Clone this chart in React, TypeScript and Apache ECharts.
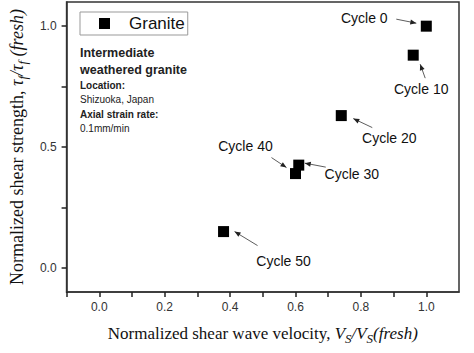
import React, { useEffect, useRef } from "react";
import * as echarts from "echarts";

// ---- data ----
const cycles = ["Cycle 0", "Cycle 10", "Cycle 20", "Cycle 30", "Cycle 40", "Cycle 50"];
const vsRatio = [1.0, 0.96, 0.74, 0.61, 0.6, 0.38];
const tauRatio = [1.0, 0.88, 0.63, 0.425, 0.39, 0.15];
const xTickLabels = [0.0, 0.2, 0.4, 0.6, 0.8, 1.0];
const xTicks = [-0.1, 0.0, 0.1, 0.2, 0.3, 0.4, 0.5, 0.6, 0.7, 0.8, 0.9, 1.0];
const yTickLabels = [0.0, 0.5, 1.0];
const yTicks = [0.0, 0.25, 0.5, 0.75, 1.0];
const seriesName = "Granite";
const noteLines = [
  { text: "Intermediate", bold: true, size: 12.5 },
  { text: "weathered granite", bold: true, size: 12.5 },
  { text: "Location:", bold: true, size: 10 },
  { text: "Shizuoka, Japan", bold: false, size: 10 },
  { text: "Axial strain rate:", bold: true, size: 10 },
  { text: "0.1mm/min", bold: false, size: 10 },
];

// annotation layout (pixel offsets relative to each point): text centre, arrow start, arrow end
const labelLayout = [
  { t: [-62, -8], a: [-30, -7], b: [-10, -3] },
  { t: [8, 34], a: [12, 23], b: [7, 9] },
  { t: [48, 22], a: [31, 12], b: [12, 3] },
  { t: [53, 9], a: [27, 2], b: [6, -2] },
  { t: [-50, -28], a: [-24, -16], b: [-9, -6] },
  { t: [60, 29], a: [34, 14], b: [11, 0] },
];

const SANS = "Arial, 'Liberation Sans', Helvetica, sans-serif";
const SERIF = "'Times New Roman', 'Liberation Serif', serif";

const makeRich = (size: number, sub: number, shift: number) => ({
  n: { fontFamily: SERIF, fontSize: size, color: "#111" },
  i: { fontFamily: SERIF, fontSize: size, fontStyle: "italic", color: "#111" },
  s: { fontFamily: SERIF, fontSize: sub, fontStyle: "italic", color: "#111", padding: [shift, 0, 0, 0] },
});

export default function App() {
  const ref = useRef<HTMLDivElement>(null);
  useEffect(() => {
    if (!ref.current) return;
    const chart = echarts.init(ref.current, null, { renderer: "svg" });
    const axisColor = "#222";
    chart.setOption({
      animation: false,
      backgroundColor: "#fff",
      grid: {
        left: 63,
        right: 15,
        top: 2,
        bottom: 61,
        show: true,
        borderColor: "#333",
        borderWidth: 1.5,
      },
      legend: {
        left: 80,
        top: 12,
        padding: [3, 3, 3, 19],
        borderColor: "#999",
        borderWidth: 1,
        itemWidth: 11,
        itemHeight: 11,
        icon: "rect",
        data: [seriesName],
        textStyle: { fontFamily: SANS, fontSize: 17, color: "#111", padding: [0, 0, 0, 14] },
      },
      xAxis: {
        type: "value",
        min: -0.1,
        max: 1.1,
        splitLine: { show: false },
        axisLine: { show: true, onZero: false, lineStyle: { color: "#333", width: 1.5 } },
        axisTick: { show: true, length: 5, customValues: xTicks, lineStyle: { color: axisColor, width: 1.5 } },
        axisLabel: {
          customValues: xTickLabels,
          formatter: (v: number) => v.toFixed(1),
          fontFamily: SANS,
          fontSize: 12,
          color: "#333",
          margin: 9,
        },
        name: "{n|Normalized shear wave velocity, }{i|V}{s|S}{i|/V}{s|S}{i|(fresh)}",
        nameLocation: "middle",
        nameGap: 29,
        nameTextStyle: { rich: makeRich(17, 13, 11), verticalAlign: "top" },
      },
      yAxis: {
        type: "value",
        min: -0.1,
        max: 1.1,
        splitLine: { show: false },
        axisLine: { show: true, onZero: false, lineStyle: { color: "#333", width: 1.5 } },
        axisTick: { show: true, length: 5, customValues: yTicks, lineStyle: { color: axisColor, width: 1.5 } },
        axisLabel: {
          customValues: yTickLabels,
          formatter: (v: number) => v.toFixed(1),
          fontFamily: SANS,
          fontSize: 12,
          color: "#333",
          margin: 10,
        },
        name: "{n|Normalized shear strength, }{i|τ}{s|f}{i|/τ}{s|f}{i| (fresh)}",
        nameLocation: "middle",
        nameGap: 30,
        nameTextStyle: { rich: makeRich(18, 13, 11) },
      },
      series: [
        {
          name: seriesName,
          type: "scatter",
          symbol: "rect",
          symbolSize: 11,
          itemStyle: { color: "#000", opacity: 1 },
          data: vsRatio.map((v, k) => [v, tauRatio[k]]),
        },
      ],
    });

    const graphics: any[] = [];
    // note text block
    let yy = 46;
    noteLines.forEach((ln) => {
      graphics.push({
        type: "text",
        left: 80,
        top: yy,
        style: {
          text: ln.text,
          fontFamily: SANS,
          fontSize: ln.size,
          fontWeight: ln.bold ? "bold" : "normal",
          fill: "#222",
        },
      });
      yy += ln.size > 11 ? 17 : 14.5;
    });
    // annotations
    cycles.forEach((c, k) => {
      const p = chart.convertToPixel({ seriesIndex: 0 }, [vsRatio[k], tauRatio[k]]) as number[];
      const L = labelLayout[k];
      graphics.push({
        type: "text",
        x: p[0] + L.t[0],
        y: p[1] + L.t[1],
        style: {
          text: c,
          fontFamily: SANS,
          fontSize: 14,
          fill: "#111",
          align: "center",
          verticalAlign: "middle",
        },
      });
      const x1 = p[0] + L.a[0], y1 = p[1] + L.a[1];
      const x2 = p[0] + L.b[0], y2 = p[1] + L.b[1];
      graphics.push({
        type: "line",
        shape: { x1, y1, x2, y2 },
        style: { stroke: "#333", lineWidth: 0.8 },
      });
      const ang = Math.atan2(y2 - y1, x2 - x1);
      const hl = 6, hw = 2.5;
      const bx = x2 - hl * Math.cos(ang), by = y2 - hl * Math.sin(ang);
      graphics.push({
        type: "polygon",
        shape: {
          points: [
            [x2, y2],
            [bx - hw * Math.sin(ang), by + hw * Math.cos(ang)],
            [bx + hw * Math.sin(ang), by - hw * Math.cos(ang)],
          ],
        },
        style: { fill: "#222" },
      });
    });
    chart.setOption({ graphic: graphics });

    return () => chart.dispose();
  }, []);
  return (
    <div
      ref={ref}
      style={{ position: "fixed", left: 0, top: 0, width: 474, height: 353, background: "#fff" }}
    />
  );
}
